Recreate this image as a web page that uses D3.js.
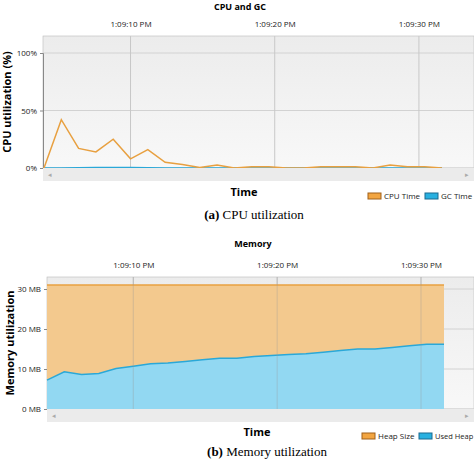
<!DOCTYPE html><html><head><meta charset="utf-8">
<script src="https://cdn.jsdelivr.net/npm/d3@7"></script>
<style>body{margin:0;background:#fff}svg{display:block}</style></head><body>
<script>
// seconds since 1:09:00 PM, sample every ~1.2 s
const startSec = 4.0, stepSec = 1.2;
const cpuTime = [0,42,17,14,25,8,16,5,3,0.5,2.5,0,1,1,0,0,1,1,1,0,2.5,1,1,0];
const gcTime  = [0,0,0.3,0.5,0.5,0.4,0.2,0,0,0,0,0,0,0,0,0,0,0,0,0,0,0,0,0];
const heapSize = [31,31,31,31,31,31,31,31,31,31,31,31,31,31,31,31,31,31,31,31,31,31,31,31];
const usedHeap = [7.2,9.3,8.6,8.9,10.1,10.7,11.3,11.5,11.9,12.3,12.7,12.7,13.1,13.4,13.6,13.8,14.2,14.6,15,15,15.4,15.8,16.2,16.2];
const timeTicks = [10,20,30];
const timeTickLabels = ["1:09:10 PM","1:09:20 PM","1:09:30 PM"];
const cpuTicks = [0,50,100];
const memTicks = [0,10,20,30];

const W=474,H=467;
const svg=d3.select("body").append("svg").attr("width",W).attr("height",H).style("font-family","'Open Sans',sans-serif");
const defs=svg.append("defs");
const g=defs.append("linearGradient").attr("id","bg").attr("x1",0).attr("y1",0).attr("x2",0).attr("y2",1);
g.append("stop").attr("offset","0").attr("stop-color","#ececec");
g.append("stop").attr("offset","1").attr("stop-color","#f8f8f8");
const t0=new Date(2000,0,1,13,9,0);
const tt=s=>new Date(t0.getTime()+s*1000);

function panel(cfg){
  const x=d3.scaleTime().domain([tt(startSec),tt(startSec+(24-1)*stepSec)]).range([cfg.x0,cfg.x1]);
  const y=d3.scaleLinear().domain(cfg.yd).range([cfg.yb,cfg.yt]);
  svg.append("text").attr("x",cfg.cx).attr("y",cfg.titleY).attr("text-anchor","middle").attr("font-size",9).attr("font-weight","bold").text(cfg.title);
  svg.append("rect").attr("x",cfg.px).attr("y",cfg.py).attr("width",W-cfg.px).attr("height",cfg.yb-cfg.py).attr("fill","url(#bg)").attr("stroke","#bbb").attr("stroke-width",0.6);
  svg.append("g").selectAll("line").data(cfg.yticks).join("line").attr("x1",cfg.px).attr("x2",W).attr("y1",d=>y(d)).attr("y2",d=>y(d)).attr("stroke","#d2d2d2");
  svg.append("g").selectAll("line").data(timeTicks).join("line").attr("x1",d=>x(tt(d))).attr("x2",d=>x(tt(d))).attr("y1",cfg.py).attr("y2",cfg.yb).attr("stroke","#c8c8c8");
  const ax=d3.axisTop(x).tickValues(timeTicks.map(tt)).tickFormat((d,i)=>timeTickLabels[i]).tickSize(0);
  const ga=svg.append("g").attr("transform",`translate(0,${cfg.py-6})`).call(ax);
  ga.select(".domain").remove();ga.selectAll("text").attr("font-size",8).attr("fill","#222").attr("font-family","'Open Sans',sans-serif");
  const ay=d3.axisLeft(y).tickValues(cfg.yticks).tickFormat(cfg.yfmt).tickSize(3);
  const gy=svg.append("g").attr("transform",`translate(${cfg.px},0)`).call(ay);
  gy.select(".domain").attr("stroke","#888");gy.selectAll("text").attr("font-size",8).attr("fill","#222").attr("font-family","'Open Sans',sans-serif");
  gy.selectAll("line").attr("stroke","#888");
  cfg.draw(x,y);
  svg.append("rect").attr("x",cfg.px).attr("y",cfg.yb).attr("width",W-cfg.px).attr("height",13).attr("fill","#ebebeb");
  svg.append("text").attr("x",cfg.px+5).attr("y",cfg.yb+9).attr("font-size",7).attr("fill","#aaa").text("◂");
  svg.append("text").attr("x",W-9).attr("y",cfg.yb+9).attr("font-size",7).attr("fill","#aaa").text("▸");
  svg.append("text").attr("x",cfg.cx+4).attr("y",cfg.timeY).attr("text-anchor","middle").attr("font-size",11).attr("font-weight","bold").text("Time");
  svg.append("text").attr("transform",`translate(${cfg.ylx},${(cfg.py+cfg.yb)/2}) rotate(-90)`).attr("text-anchor","middle").attr("font-size",11).attr("font-weight","bold").text(cfg.ylabel);
  cfg.legend.forEach((l,i)=>{
    svg.append("rect").attr("x",l.x).attr("y",cfg.legY-5).attr("width",13).attr("height",6).attr("fill",l.fill).attr("stroke",l.stroke);
    svg.append("text").attr("x",l.x+16).attr("y",cfg.legY+1).attr("font-size",l.fs||8).attr("fill","#222").text(l.t);
  });
  svg.append("text").attr("x",cfg.cx+14).attr("y",cfg.capY).attr("text-anchor","middle").attr("font-size",13).attr("font-family","'Liberation Serif',serif").html(cfg.cap);
}

panel({title:"CPU and GC",titleY:10,cx:240,x0:44,x1:442,px:43,py:36,yb:168,yt:53,yd:[0,100],yticks:cpuTicks,yfmt:d=>d+"%",
 ylabel:"CPU utilization (%)",ylx:11,timeY:196,legY:198,capY:219,cap:'<tspan font-weight="bold">(a)</tspan> CPU utilization',
 legend:[{x:368,fill:"#f2a541",stroke:"#a0601a",t:"CPU Time"},{x:425,fill:"#28b0e0",stroke:"#1a6a90",t:"GC Time"}],
 draw:(x,y)=>{
  const l=d3.line().x((d,i)=>x(tt(startSec+i*stepSec))).y(d=>y(d));
  svg.append("path").datum(gcTime).attr("d",l).attr("fill","none").attr("stroke","#2aa8d8").attr("stroke-width",1.5);
  svg.append("path").datum(cpuTime).attr("d",l).attr("fill","none").attr("stroke","#e8a040").attr("stroke-width",1.5);
 }});

panel({title:"Memory",titleY:247,cx:253,x0:47,x1:444,px:47,py:277,yb:409,yt:289,yd:[0,30],yticks:memTicks,yfmt:d=>d+" MB",
 ylabel:"Memory utilization",ylx:14,timeY:436,legY:438,capY:456,cap:'<tspan font-weight="bold">(b)</tspan> Memory utilization',
 legend:[{x:362,fill:"#f2a541",stroke:"#a0601a",t:"Heap Size"},{x:419,fill:"#28b0e0",stroke:"#1a6a90",t:"Used Heap",fs:7.5}],
 draw:(x,y)=>{
  const xi=(d,i)=>x(tt(startSec+i*stepSec));
  const a=d3.area().x(xi).y0(y(0)).y1(d=>y(d));
  const l=d3.line().x(xi).y(d=>y(d));
  svg.append("path").datum(heapSize).attr("d",a).attr("fill","#f3c98e");
  svg.append("path").datum(heapSize).attr("d",l).attr("fill","none").attr("stroke","#e8a040").attr("stroke-width",1.5);
  svg.append("path").datum(usedHeap).attr("d",a).attr("fill","#92d8f2");
  svg.append("path").datum(usedHeap).attr("d",l).attr("fill","none").attr("stroke","#2aa8d8").attr("stroke-width",1.5);
  svg.append("g").selectAll("line").data(timeTicks).join("line").attr("x1",d=>x(tt(d))).attr("x2",d=>x(tt(d))).attr("y1",277).attr("y2",409).attr("stroke","#999").attr("stroke-opacity",0.35);
 }});
</script></body></html>
